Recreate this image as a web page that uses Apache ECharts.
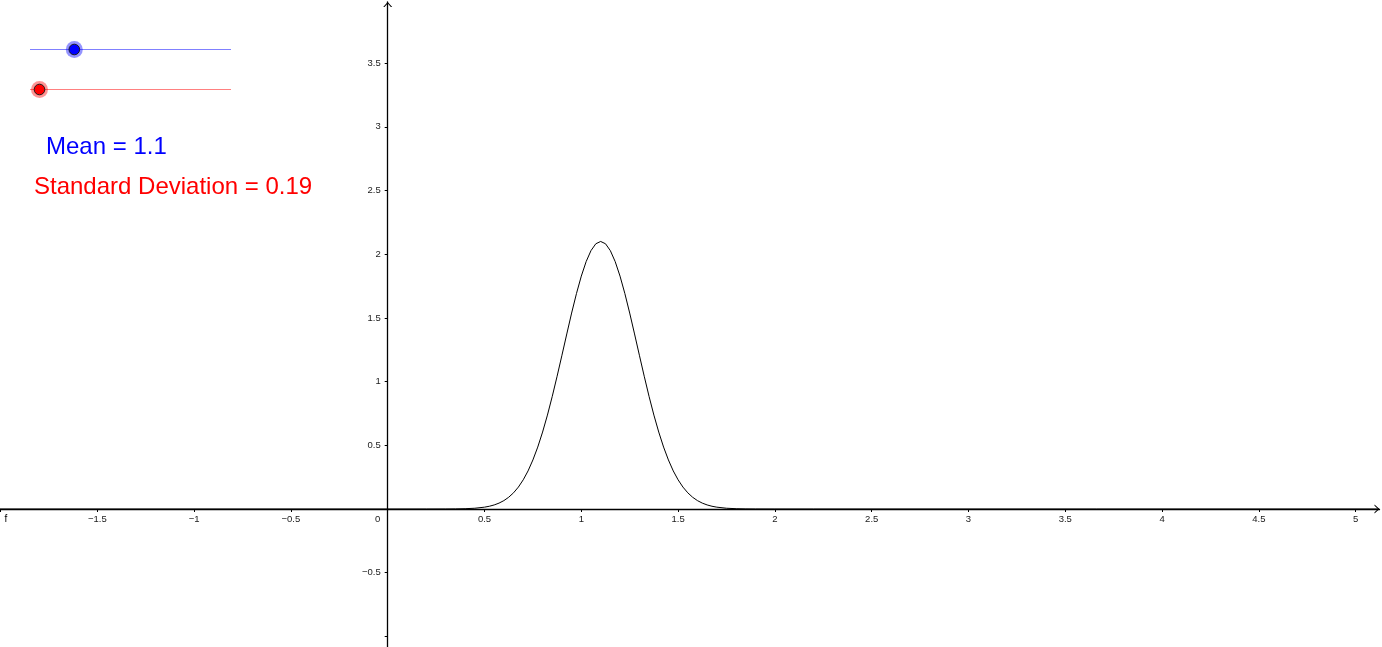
<!DOCTYPE html>
<html>
<head>
<meta charset="utf-8">
<script src="https://cdn.jsdelivr.net/npm/echarts@6/dist/echarts.min.js"></script>
<style>
html,body{margin:0;padding:0;background:#fff;}
#chart{width:1382px;height:647px;}
</style>
</head>
<body>
<div id="chart"></div>
<script>
// ---- data ----
var meanValue = 1.1;
var sdValue = 0.19;
var curveX = [-2.0026, -2.0, 0.0, 0.2, 0.3, 0.35, 0.4, 0.45, 0.5, 0.525, 0.55, 0.575, 0.6, 0.625, 0.65, 0.675, 0.7, 0.725, 0.75, 0.775, 0.8, 0.825, 0.85, 0.875, 0.9, 0.925, 0.95, 0.975, 1.0, 1.025, 1.05, 1.075, 1.1, 1.125, 1.15, 1.175, 1.2, 1.225, 1.25, 1.275, 1.3, 1.325, 1.35, 1.375, 1.4, 1.425, 1.45, 1.475, 1.5, 1.525, 1.55, 1.575, 1.6, 1.625, 1.65, 1.675, 1.7, 1.75, 1.8, 1.85, 1.9, 2.0, 2.2, 5.12];
var curveY = [0, 0, 0, 0.00003, 0.0003, 0.0009, 0.0024, 0.006, 0.0144, 0.0215, 0.0318, 0.0462, 0.0658, 0.0923, 0.127, 0.172, 0.229, 0.299, 0.385, 0.486, 0.604, 0.737, 0.884, 1.042, 1.207, 1.374, 1.538, 1.691, 1.828, 1.942, 2.028, 2.082, 2.1, 2.082, 2.028, 1.942, 1.828, 1.691, 1.538, 1.374, 1.207, 1.042, 0.884, 0.737, 0.604, 0.486, 0.385, 0.299, 0.229, 0.172, 0.127, 0.0923, 0.0658, 0.0462, 0.0318, 0.0215, 0.0144, 0.006, 0.0024, 0.0009, 0.0003, 0.00003, 0, 0];
var xTickValues = [-2, -1.5, -1, -0.5, 0, 0.5, 1, 1.5, 2, 2.5, 3, 3.5, 4, 4.5, 5];
var xLabelValues = [-1.5, -1, -0.5, 0, 0.5, 1, 1.5, 2, 2.5, 3, 3.5, 4, 4.5, 5];
var yTickValues = [-1, -0.5, 0.5, 1, 1.5, 2, 2.5, 3, 3.5];
var yLabelValues = [-0.5, 0.5, 1, 1.5, 2, 2.5, 3, 3.5];
var functionLabel = 'f';
var meanText = 'Mean = ' + meanValue;
var sdText = 'Standard Deviation = ' + sdValue;

// ---- build ----
var curveData = curveX.map(function (x, i) {
  var item = { value: [x, curveY[i]] };
  if (x === -2.0) {
    item.label = { show: true, formatter: functionLabel, position: 'right', distance: 4, offset: [0, 10], color: '#000', fontSize: 10, fontFamily: 'Liberation Sans' };
  }
  return item;
});

function fmt(v) {
  return String(v).replace('-', '\u2212');
}

var W = 1382, H = 647;
var gridTop = 2, gridRight = 2.5;
var xMin = -2.0026, xMax = (W - gridRight - 387.7) / 193.6;
var yMin = -1.0832, yMax = (509 - gridTop) / 127.4;
// where the value 0 falls inside the grid (the axes cross there)
var xZeroOffset = -(H - gridTop) * (0 - yMin) / (yMax - yMin);
var yZeroOffset = -(W - gridRight) * (0 - xMin) / (xMax - xMin);

var arrowPath = 'path://M0,5 L4.5,0 L9,5 L7.7,5 L4.5,1.5 L1.3,5 Z';
var arrowLine = { onZero: false, lineStyle: { color: '#000', width: 1.3 }, symbol: ['none', arrowPath], symbolSize: [9, 5], symbolOffset: [0, -2.5] };
var labelFont = { color: '#1a1a1a', fontSize: 9.5, fontFamily: 'Liberation Sans' };
var chart = echarts.init(document.getElementById('chart'));
chart.setOption({
  animation: false,
  backgroundColor: '#ffffff',
  grid: { left: 0, right: gridRight, top: gridTop, bottom: 0, containLabel: false, outerBoundsMode: 'none' },
  xAxis: {
    type: 'value',
    min: xMin,
    max: xMax,
    position: 'bottom',
    offset: xZeroOffset,
    splitLine: { show: false },
    axisLine: arrowLine,
    axisTick: { show: true, length: 3, customValues: xTickValues, lineStyle: { color: '#000', width: 1 } },
    axisLabel: Object.assign({
      customValues: xLabelValues,
      margin: 5,
      hideOverlap: false,
      formatter: function (v) { return v === 0 ? '{z|0}' : fmt(v); },
      rich: { z: Object.assign({ padding: [0, 20, 0, 0] }, labelFont) }
    }, labelFont)
  },
  yAxis: {
    type: 'value',
    min: yMin,
    max: yMax,
    position: 'left',
    offset: yZeroOffset,
    splitLine: { show: false },
    axisLine: arrowLine,
    axisTick: { show: true, length: 3, customValues: yTickValues, lineStyle: { color: '#000', width: 1 } },
    axisLabel: Object.assign({
      customValues: yLabelValues,
      margin: 7,
      hideOverlap: false,
      formatter: function (v) { return fmt(v); }
    }, labelFont)
  },
  series: [{
    type: 'line',
    data: curveData,
    showSymbol: true,
    showAllSymbol: true,
    symbol: 'circle',
    symbolSize: 0,
    smooth: false,
    lineStyle: { color: '#000', width: 1 },
    itemStyle: { color: '#000' },
    silent: true
  }],
  graphic: [
    { type: 'line', shape: { x1: 30, y1: 49.5, x2: 231, y2: 49.5 }, style: { stroke: '#8080ff', lineWidth: 1 } },
    { type: 'circle', shape: { cx: 74.3, cy: 49.5, r: 8.5 }, style: { fill: 'rgba(0,0,255,0.42)' } },
    { type: 'circle', shape: { cx: 74.3, cy: 49.5, r: 5.3 }, style: { fill: '#0000ff', stroke: '#1a1a1a', lineWidth: 1 } },
    { type: 'line', shape: { x1: 30, y1: 89.5, x2: 231, y2: 89.5 }, style: { stroke: '#ff8080', lineWidth: 1 } },
    { type: 'circle', shape: { cx: 39.5, cy: 89.5, r: 8.5 }, style: { fill: 'rgba(255,0,0,0.42)' } },
    { type: 'circle', shape: { cx: 39.5, cy: 89.5, r: 5.3 }, style: { fill: '#ff0000', stroke: '#1a1a1a', lineWidth: 1 } },
    { type: 'text', x: 46, y: 147, style: { text: meanText, fill: '#0000ff', font: '24px "Liberation Sans", Arial, sans-serif', verticalAlign: 'middle', align: 'left' } },
    { type: 'text', x: 34, y: 187, style: { text: sdText, fill: '#ff0000', font: '24px "Liberation Sans", Arial, sans-serif', verticalAlign: 'middle', align: 'left' } }
  ]
});
</script>
</body>
</html>
